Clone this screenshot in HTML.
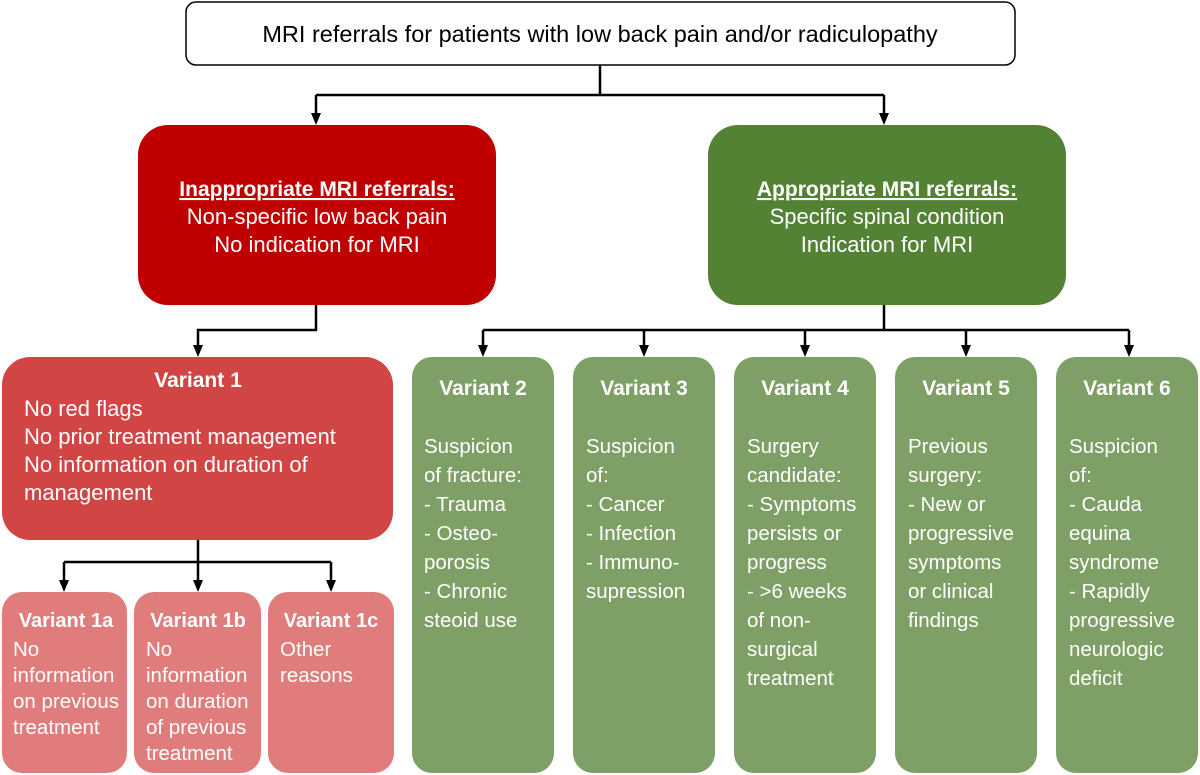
<!DOCTYPE html>
<html><head><meta charset="utf-8"><style>
html,body{margin:0;padding:0;background:#fff}
svg{display:block}
text{font-family:"Liberation Sans",sans-serif;font-size:22px;fill:#fff}
.b{font-weight:bold;font-size:21px}
.s{font-size:20.5px}
.g{font-size:20.5px}
</style></head><body>
<svg width="1200" height="775" viewBox="0 0 1200 775">
<g stroke="#000" stroke-width="2.5" fill="none">
<path d="M600,65V95M316,95H884"/>
<path d="M316,95V115M884,95V115"/>
<path d="M316,305V330H198V347"/>
<path d="M198,540V562M64,562H331"/>
<path d="M64,562V582M198,562V582M331,562V582"/>
<path d="M884,305V330M483,330H1129"/>
<path d="M483,330V347M644,330V347M805,330V347M966,330V347M1129,330V347"/>
</g>
<g fill="#000">
<path d="M311,113H321L316,125z"/><path d="M879,113H889L884,125z"/>
<path d="M193,345H203L198,357z"/>
<path d="M59,580H69L64,592z"/><path d="M193,580H203L198,592z"/><path d="M326,580H336L331,592z"/>
<path d="M478,345H488L483,357z"/><path d="M639,345H649L644,357z"/><path d="M800,345H810L805,357z"/><path d="M961,345H971L966,357z"/><path d="M1124,345H1134L1129,357z"/>
</g>
<rect x="186" y="2" width="829" height="63" rx="10" fill="#fff" stroke="#000" stroke-width="1.5"/>
<text x="600" y="42" text-anchor="middle" style="fill:#000;font-size:23.5px">MRI referrals for patients with low back pain and/or radiculopathy</text>
<rect x="138" y="125" width="358" height="180" rx="30" fill="#C00000"/>
<text x="317" y="196" text-anchor="middle" class="b" text-decoration="underline">Inappropriate MRI referrals:</text>
<text x="317" y="224" text-anchor="middle">Non-specific low back pain</text>
<text x="317" y="252" text-anchor="middle">No indication for MRI</text>
<rect x="708" y="125" width="358" height="180" rx="30" fill="#548235"/>
<text x="887" y="196" text-anchor="middle" class="b" text-decoration="underline">Appropriate MRI referrals:</text>
<text x="887" y="224" text-anchor="middle">Specific spinal condition</text>
<text x="887" y="252" text-anchor="middle">Indication for MRI</text>
<rect x="2" y="357" width="391" height="183" rx="28" fill="#D24545"/>
<text x="198" y="387" text-anchor="middle" class="b">Variant 1</text>
<text x="24" y="416">No red flags</text>
<text x="24" y="444">No prior treatment management</text>
<text x="24" y="472">No information on duration of</text>
<text x="24" y="500">management</text>
<g fill="#E07C7C">
<rect x="2" y="592" width="125" height="181" rx="20"/>
<rect x="134" y="592" width="127" height="181" rx="20"/>
<rect x="268" y="592" width="126" height="181" rx="20"/>
</g>
<text x="66" y="627" text-anchor="middle" class="b" style="font-size:20px">Variant 1a</text>
<text x="13" y="656" class="s">No</text><text x="13" y="682" class="s">information</text><text x="13" y="708" class="s">on previous</text><text x="13" y="734" class="s">treatment</text>
<text x="198" y="627" text-anchor="middle" class="b" style="font-size:20px">Variant 1b</text>
<text x="146" y="656" class="s">No</text><text x="146" y="682" class="s">information</text><text x="146" y="708" class="s">on duration</text><text x="146" y="734" class="s">of previous</text><text x="146" y="760" class="s">treatment</text>
<text x="331" y="627" text-anchor="middle" class="b" style="font-size:20px">Variant 1c</text>
<text x="280" y="656" class="s">Other</text><text x="280" y="682" class="s">reasons</text>
<g fill="#7EA066">
<rect x="412" y="357" width="142" height="416" rx="20"/>
<rect x="573" y="357" width="142" height="416" rx="20"/>
<rect x="734" y="357" width="142" height="416" rx="20"/>
<rect x="895" y="357" width="142" height="416" rx="20"/>
<rect x="1056" y="357" width="142" height="416" rx="20"/>
</g>
<text x="483" y="395" text-anchor="middle" class="b">Variant 2</text>
<g class="g">
<text x="424" y="453" class="g">Suspicion</text><text x="424" y="482" class="g">of fracture:</text><text x="424" y="511" class="g">- Trauma</text><text x="424" y="540" class="g">- Osteo-</text><text x="424" y="569" class="g">porosis</text><text x="424" y="598" class="g">- Chronic</text><text x="424" y="627" class="g">steoid use</text>
<text x="586" y="453" class="g">Suspicion</text><text x="586" y="482" class="g">of:</text><text x="586" y="511" class="g">- Cancer</text><text x="586" y="540" class="g">- Infection</text><text x="586" y="569" class="g">- Immuno-</text><text x="586" y="598" class="g">supression</text>
<text x="747" y="453" class="g">Surgery</text><text x="747" y="482" class="g">candidate:</text><text x="747" y="511" class="g">- Symptoms</text><text x="747" y="540" class="g">persists or</text><text x="747" y="569" class="g">progress</text><text x="747" y="598" class="g">- &gt;6 weeks</text><text x="747" y="627" class="g">of non-</text><text x="747" y="656" class="g">surgical</text><text x="747" y="685" class="g">treatment</text>
<text x="908" y="453" class="g">Previous</text><text x="908" y="482" class="g">surgery:</text><text x="908" y="511" class="g">- New or</text><text x="908" y="540" class="g">progressive</text><text x="908" y="569" class="g">symptoms</text><text x="908" y="598" class="g">or clinical</text><text x="908" y="627" class="g">findings</text>
<text x="1069" y="453" class="g">Suspicion</text><text x="1069" y="482" class="g">of:</text><text x="1069" y="511" class="g">- Cauda</text><text x="1069" y="540" class="g">equina</text><text x="1069" y="569" class="g">syndrome</text><text x="1069" y="598" class="g">- Rapidly</text><text x="1069" y="627" class="g">progressive</text><text x="1069" y="656" class="g">neurologic</text><text x="1069" y="685" class="g">deficit</text>
</g>
<text x="644" y="395" text-anchor="middle" class="b">Variant 3</text>
<text x="805" y="395" text-anchor="middle" class="b">Variant 4</text>
<text x="966" y="395" text-anchor="middle" class="b">Variant 5</text>
<text x="1127" y="395" text-anchor="middle" class="b">Variant 6</text>
</svg>
</body></html>
